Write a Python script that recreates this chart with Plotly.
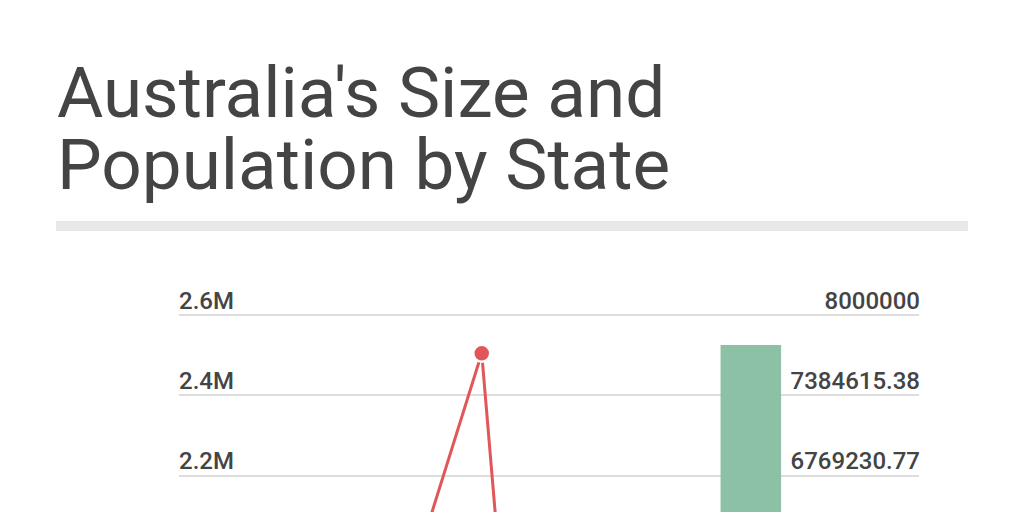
import plotly.graph_objects as go

# ---- data (read/estimated from the reference) ----
states = ["Tasmania", "Victoria", "Northern Territory", "Queensland",
          "Western Australia", "South Australia", "Australian Capital Territory",
          "Jervis Bay Territory", "New South Wales", "Norfolk Island", "Christmas Island"]
area_km2 = [68401, 227444, 1349129, 1970000, 2505000, 520000, 2358, 70, 800642, 35, 135]
population = [520000, 6200000, 245000, 4900000, 2600000, 1720000, 410000, 400, 7772000, 1750, 1850]

left_tickvals = [0, 200000, 400000, 600000, 800000, 1000000, 1200000, 1400000,
                 1600000, 1800000, 2000000, 2200000, 2400000, 2600000]
left_ticktext = ["0", "200k", "400k", "600k", "800k", "1M", "1.2M", "1.4M",
                 "1.6M", "1.8M", "2M", "2.2M", "2.4M", "2.6M"]
right_tickvals = [0, 615384.62, 1230769.23, 1846153.85, 2461538.46, 3076923.08,
                  3692307.69, 4307692.31, 4923076.92, 5538461.54, 6153846.15,
                  6769230.77, 7384615.38, 8000000]
right_ticktext = ["0", "615384.62", "1230769.23", "1846153.85", "2461538.46",
                  "3076923.08", "3692307.69", "4307692.31", "4923076.92",
                  "5538461.54", "6153846.15", "6769230.77", "7384615.38", "8000000"]

title_line1 = "Australia's Size and"
title_line2 = "Population by State"

# ---- layout geometry (page has an 8px body margin) ----
OFF = 8
W, H = 1016, 1560
ML, MR = 179 - OFF, 105
MT = 275 - OFF          # plot top (range extends 0.1M above the top gridline)
PH = int(round(13.5 * 80.3))
MB = H - MT - PH
PW = W - ML - MR

def px_x(x):
    return (x - OFF - ML) / PW

def px_y(y):
    return 1 - (y - OFF - MT) / PH

FONT = "Roboto"
TXT = "#444444"

fig = go.Figure()
fig.add_trace(go.Bar(
    x=states, y=population, name="Population", yaxis="y",
    marker=dict(color="#8dc1a6", line=dict(width=0)),
))
fig.add_trace(go.Scatter(
    x=states, y=area_km2, name="Area (km²)", yaxis="y2", mode="lines+markers",
    line=dict(color="#e15759", width=3),
    marker=dict(color="#e15759", size=17, line=dict(color="white", width=2.5)),
))

tick_font = dict(family=FONT, size=24, color=TXT, weight=500)

fig.update_layout(
    width=W, height=H,
    margin=dict(l=ML, r=MR, t=MT, b=MB, pad=0, autoexpand=False),
    paper_bgcolor="white", plot_bgcolor="white",
    showlegend=False,
    bargap=0.1,
    font=dict(family=FONT, color=TXT, size=24),
    xaxis=dict(range=[-0.5, len(states) - 0.5], showgrid=False, showline=False,
               ticks="", tickfont=dict(size=14), tickangle=-45, automargin=False),
    yaxis=dict(side="right", range=[0, 8000000 * 27 / 26], tickvals=right_tickvals,
               ticktext=right_ticktext, ticklabelposition="inside top",
               ticklabelshift=2, ticklabelstandoff=-4,
               showgrid=False, zeroline=False, showline=False, ticks="",
               tickfont=tick_font, automargin=False),
    yaxis2=dict(side="left", overlaying="y", range=[0, 2700000],
                tickvals=left_tickvals, ticktext=left_ticktext,
                ticklabelposition="inside top",
                ticklabelshift=2, ticklabelstandoff=-3,
                showgrid=True, gridcolor="#dddddd", gridwidth=2,
                zeroline=False, showline=False, ticks="",
                tickfont=tick_font, automargin=False),
    shapes=[dict(type="rect", xref="paper", yref="paper",
                 x0=px_x(56), x1=px_x(968), y0=px_y(231), y1=px_y(221),
                 fillcolor="#e8e8e8", line=dict(width=0), layer="above")],
    annotations=[
        dict(text=title_line1, xref="paper", yref="paper", x=px_x(55), y=px_y(92),
             xanchor="left", yanchor="middle", showarrow=False,
             font=dict(family=FONT, size=71, color=TXT)),
        dict(text=title_line2, xref="paper", yref="paper", x=px_x(55), y=px_y(165),
             xanchor="left", yanchor="middle", showarrow=False,
             font=dict(family=FONT, size=71, color=TXT)),
    ],
)

fig.write_html("out.html")
